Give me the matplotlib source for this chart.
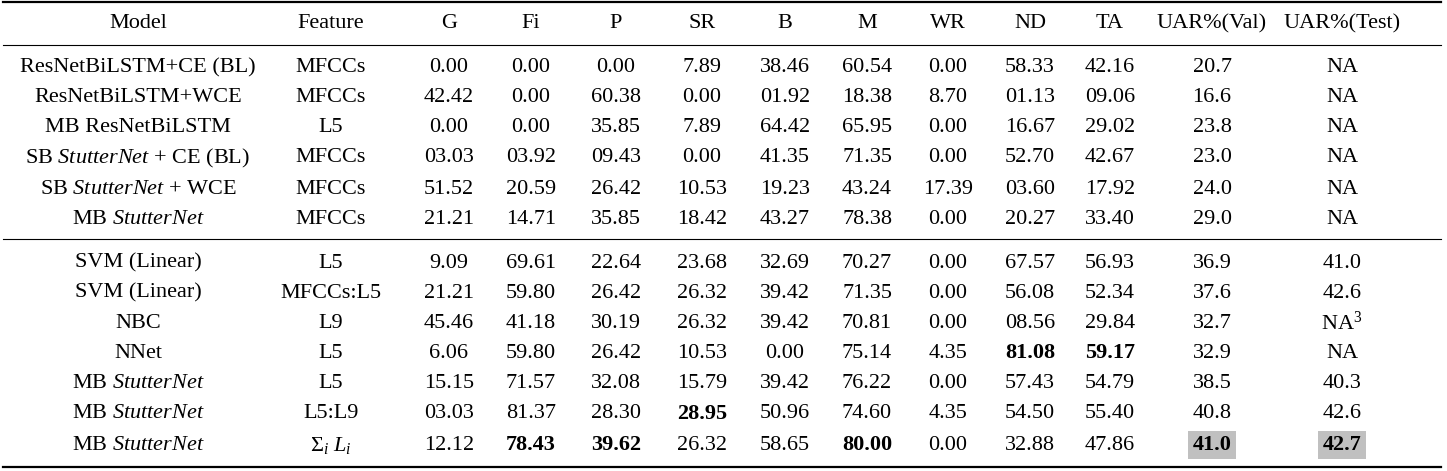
import matplotlib.pyplot as plt

plt.rcParams['font.family'] = 'Liberation Serif'
plt.rcParams['mathtext.fontset'] = 'custom'
plt.rcParams['mathtext.rm'] = 'Liberation Serif'
plt.rcParams['mathtext.it'] = 'Liberation Serif:italic'
plt.rcParams['mathtext.bf'] = 'Liberation Serif:bold'

headers = ['Model', 'Feature', 'G', 'Fi', 'P', 'SR', 'B', 'M', 'WR', 'ND', 'TA',
           'UAR%(Val)', 'UAR%(Test)']

models = ['ResNetBiLSTM+CE (BL)', 'ResNetBiLSTM+WCE', 'MB ResNetBiLSTM',
          r'SB $\mathit{StutterNet}$ + CE (BL)', r'SB $\mathit{StutterNet}$ + WCE',
          r'MB $\mathit{StutterNet}$',
          'SVM (Linear)', 'SVM (Linear)', 'NBC', 'NNet',
          r'MB $\mathit{StutterNet}$', r'MB $\mathit{StutterNet}$', r'MB $\mathit{StutterNet}$']
features = ['MFCCs', 'MFCCs', 'L5', 'MFCCs', 'MFCCs', 'MFCCs',
            'L5', 'MFCCs:L5', 'L9', 'L5', 'L5', 'L5:L9', r'$\Sigma_i\ L_i$']
scores = [
    ['0.00', '0.00', '0.00', '7.89', '38.46', '60.54', '0.00', '58.33', '42.16', '20.7', 'NA'],
    ['42.42', '0.00', '60.38', '0.00', '01.92', '18.38', '8.70', '01.13', '09.06', '16.6', 'NA'],
    ['0.00', '0.00', '35.85', '7.89', '64.42', '65.95', '0.00', '16.67', '29.02', '23.8', 'NA'],
    ['03.03', '03.92', '09.43', '0.00', '41.35', '71.35', '0.00', '52.70', '42.67', '23.0', 'NA'],
    ['51.52', '20.59', '26.42', '10.53', '19.23', '43.24', '17.39', '03.60', '17.92', '24.0', 'NA'],
    ['21.21', '14.71', '35.85', '18.42', '43.27', '78.38', '0.00', '20.27', '33.40', '29.0', 'NA'],
    ['9.09', '69.61', '22.64', '23.68', '32.69', '70.27', '0.00', '67.57', '56.93', '36.9', '41.0'],
    ['21.21', '59.80', '26.42', '26.32', '39.42', '71.35', '0.00', '56.08', '52.34', '37.6', '42.6'],
    ['45.46', '41.18', '30.19', '26.32', '39.42', '70.81', '0.00', '08.56', '29.84', '32.7', r'NA$^3$'],
    ['6.06', '59.80', '26.42', '10.53', '0.00', '75.14', '4.35', '81.08', '59.17', '32.9', 'NA'],
    ['15.15', '71.57', '32.08', '15.79', '39.42', '76.22', '0.00', '57.43', '54.79', '38.5', '40.3'],
    ['03.03', '81.37', '28.30', '28.95', '50.96', '74.60', '4.35', '54.50', '55.40', '40.8', '42.6'],
    ['12.12', '78.43', '39.62', '26.32', '58.65', '80.00', '0.00', '32.88', '47.86', '41.0', '42.7'],
]
# (row, score column) of bold cells and of shaded cells
bold_cells = [(9, 7), (9, 8), (11, 3), (12, 1), (12, 2), (12, 5), (12, 9), (12, 10)]
shaded_cells = [(12, 9), (12, 10)]

W, H = 1447, 471
fig = plt.figure(figsize=(W / 100, H / 100), dpi=100)
ax = fig.add_axes([0, 0, 1, 1])
ax.set_xlim(0, W)
ax.set_ylim(H, 0)
ax.axis('off')

col_x = [138, 331, 449, 531, 616, 702, 785, 867, 948, 1030, 1110, 1212, 1342]
header_y = 24
row_y = [68, 98, 128, 158, 189, 219, 263, 293, 323, 353, 384, 414, 445]
fs = 16

for x, h in zip(col_x, headers):
    ax.text(x, header_y, h, ha='center', va='center', fontsize=fs)

for i, y in enumerate(row_y):
    ax.text(col_x[0], y, models[i], ha='center', va='center', fontsize=fs)
    ax.text(col_x[1], y, features[i], ha='center', va='center', fontsize=fs)
    for j, s in enumerate(scores[i]):
        weight = 'bold' if (i, j) in bold_cells else 'normal'
        bbox = None
        if (i, j) in shaded_cells:
            bbox = dict(facecolor='#c0c0c0', edgecolor='none', pad=3)
        ax.text(col_x[j + 2], y, s, ha='center', va='center', fontsize=fs,
                fontweight=weight, bbox=bbox)

ax.plot([3, 1441], [2, 2], color='black', lw=1.6)
ax.plot([3, 1441], [45, 45], color='black', lw=0.8)
ax.plot([3, 1441], [239, 239], color='black', lw=0.8)
ax.plot([3, 1441], [467, 467], color='black', lw=1.6)

fig.savefig('out.png', dpi=100)
